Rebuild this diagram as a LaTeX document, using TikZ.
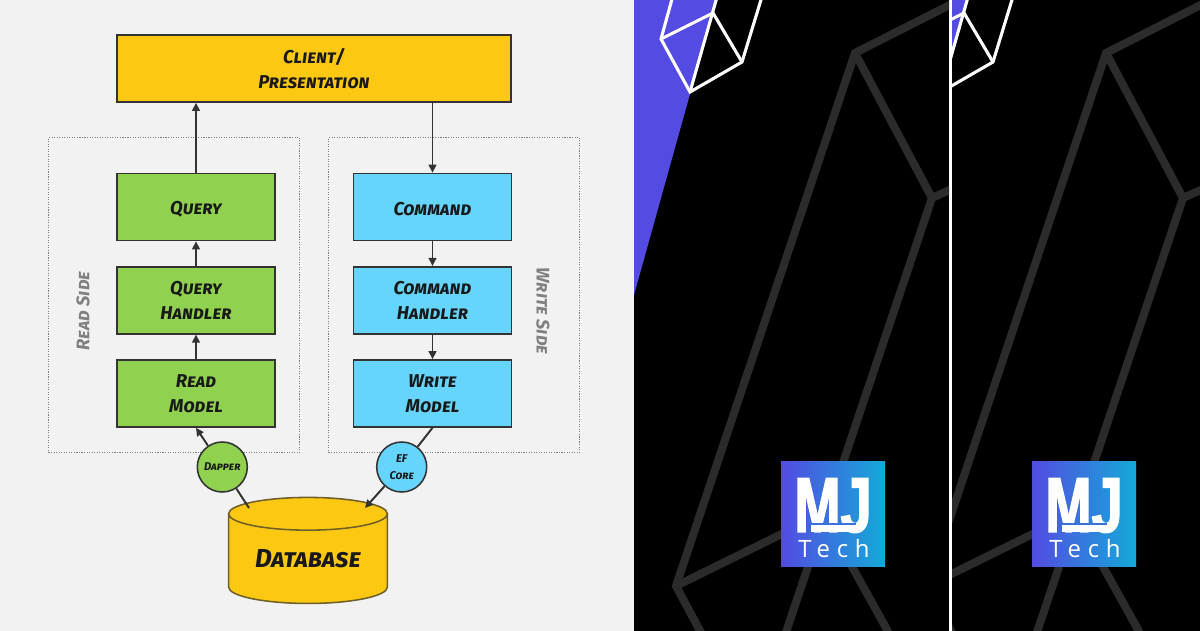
\documentclass[tikz,border=0pt]{standalone}
\usepackage{fontspec}
\usetikzlibrary{positioning,arrows.meta,shapes.geometric}
\newfontfamily\markfont[Letters=SmallCaps,UprightFont=* Bold Italic]{Fira Sans}
\newfontfamily\logofont[LetterSpace=28]{Open Sans}
\newfontfamily\logobold[FakeBold=2.5]{Liberation Sans Bold}
\definecolor{pagegrey}{HTML}{F2F2F2}
\definecolor{ink}{HTML}{333333}
\definecolor{amber}{HTML}{FCC812}
\definecolor{leaf}{HTML}{90D14F}
\definecolor{sky}{HTML}{66D5FD}
\definecolor{violet}{HTML}{534BE2}
\definecolor{logoteal}{HTML}{14AAD8}
\definecolor{logomid}{HTML}{3A72DC}
\definecolor{facet}{HTML}{2B2B2B}
\begin{document}
\begin{tikzpicture}
[
    x=.025cm, y=-.025cm,
    node distance=.617cm,
    box/.style={draw=ink, line width=1.1pt, rectangle, inner sep=0pt, align=center,
        minimum width=3.95cm, minimum height=1.675cm,
        font=\markfont\fontsize{13.2}{17.8}\selectfont, text=black!90},
    readbox/.style={box, fill=leaf},
    writebox/.style={box, fill=sky},
    sidebox/.style={draw=gray, densely dotted, line width=.8pt, rectangle, inner sep=0pt,
        minimum width=6.27cm, minimum height=7.87cm},
    sidelabel/.style={font=\markfont\fontsize{13}{15}\selectfont, text=gray},
    tool/.style={draw=ink, line width=1.1pt, circle, inner sep=0pt, minimum size=1.25cm, align=center,
        font=\markfont\fontsize{8}{12.5}\selectfont, text=black!90},
    flow/.style={draw=ink, line width=1.4pt, -{Triangle[length=2mm,width=1.9mm]}},
    plain/.style={draw=ink, line width=1.4pt},
    facetline/.style={draw=facet, line width=5.7pt, miter limit=10},
    wire/.style={draw=white, line width=2.2pt},
]
\useasboundingbox (0,0) rectangle (1200,630);
\fill[pagegrey] (-10,-10) rectangle (634,640);
\fill[white] (634,-10) rectangle (1210,640);

\node [sidebox] (readside) at (174,295) {};
\node [sidebox] (writeside) at (454,295) {};
\node [sidelabel, rotate=90] (readlabel) at (83,311) {Read Side};
\node [sidelabel, rotate=-90] (writelabel) at (543,311) {Write Side};

\node [box, fill=amber, minimum width=9.85cm] (client) at (314,68.5) {Client/\\Presentation};

\node [readbox] (query) at (196,207) {\rule{0pt}{12.5pt}Query};
\node [readbox, below=of query] (queryhandler) {Query\\Handler};
\node [readbox, below=of queryhandler] (readmodel) {Read\\Model};

\node [writebox] (command) at (432.5,207) {\rule{0pt}{12.5pt}Command};
\node [writebox, below=of command] (commandhandler) {Command\\Handler};
\node [writebox, below=of commandhandler] (writemodel) {Write\\Model};

\node [cylinder, shape border rotate=90, aspect=.31, draw=ink!70!amber, line width=1.1pt,
    fill=amber, cylinder uses custom fill, cylinder body fill=amber, cylinder end fill=amber,
    minimum width=3.97cm, minimum height=2.65cm, inner sep=0pt,
    font=\markfont\fontsize{18.5}{24}\selectfont, text=black!90] (database) at (308,559) {\raisebox{-5pt}{Database}};
\coordinate (dbread) at (249,508);
\coordinate (dbwrite) at (365,508);

\node [tool, fill=leaf] (dapper) at (222.3,467) {Dapper};
\node [tool, fill=sky] (efcore) at (401.7,467) {EF\\Core};

\draw[flow] (query.north) -- (query.north |- client.south);
\draw[flow] (queryhandler) -- (query);
\draw[flow] (readmodel) -- (queryhandler);
\draw[flow] (dapper) -- (readmodel.south);
\draw[plain] (dbread) -- (dapper);
\draw[flow] (command.north |- client.south) -- (command.north);
\draw[flow] (command) -- (commandhandler);
\draw[flow] (commandhandler) -- (writemodel);
\draw[plain] (writemodel.south) -- (efcore);
\draw[flow] (efcore) -- (dbwrite);

\foreach \shiftx/\leftx/\rightx in {0/634/949, 251/701/949}
{
\begin{scope}[xshift=\shiftx*.025cm]
\begin{scope}
\clip (\leftx,-10) rectangle (\rightx,640);
\fill[black] (\leftx,-10) rectangle (\rightx,640);
\fill[violet] (600,-10) -- (719,-10) -- (634,295) -- (600,420) -- cycle;
\draw[wire] (674.5,-10) -- (661,39) -- (690,92) -- (742,62) -- (764,-10);
\draw[wire] (661,39) -- (713,13) -- (742,62);
\draw[wire] (719,-10) -- (690,92);
\draw[facetline] (952,3.8) -- (855,53) -- (676,586) -- (706,642);
\draw[facetline] (855,53) -- (932,198) -- (780,650);
\draw[facetline] (932,198) -- (952,189);
\draw[facetline] (676,586) -- (800,525);
\draw[facetline] (840,545) -- (895,644);
\end{scope}
\node [left color=violet, right color=logoteal, rectangle, inner sep=0pt, minimum size=2.6cm] (logo\shiftx) at (833,514) {};
\node [white, inner sep=0pt, xscale=.72, font=\logobold\fontsize{55}{55}\selectfont] (mj\shiftx) at (833,505.5) {MJ};
\fill[logomid] (811,522.5) rectangle (856,525);
\fill[white] (811,525) rectangle (858,532);
\node [white, inner sep=0pt, font=\logofont\fontsize{17}{17}\selectfont] (tech\shiftx) at (834,549) {Tech};
\end{scope}
}
\end{tikzpicture}
\end{document}
